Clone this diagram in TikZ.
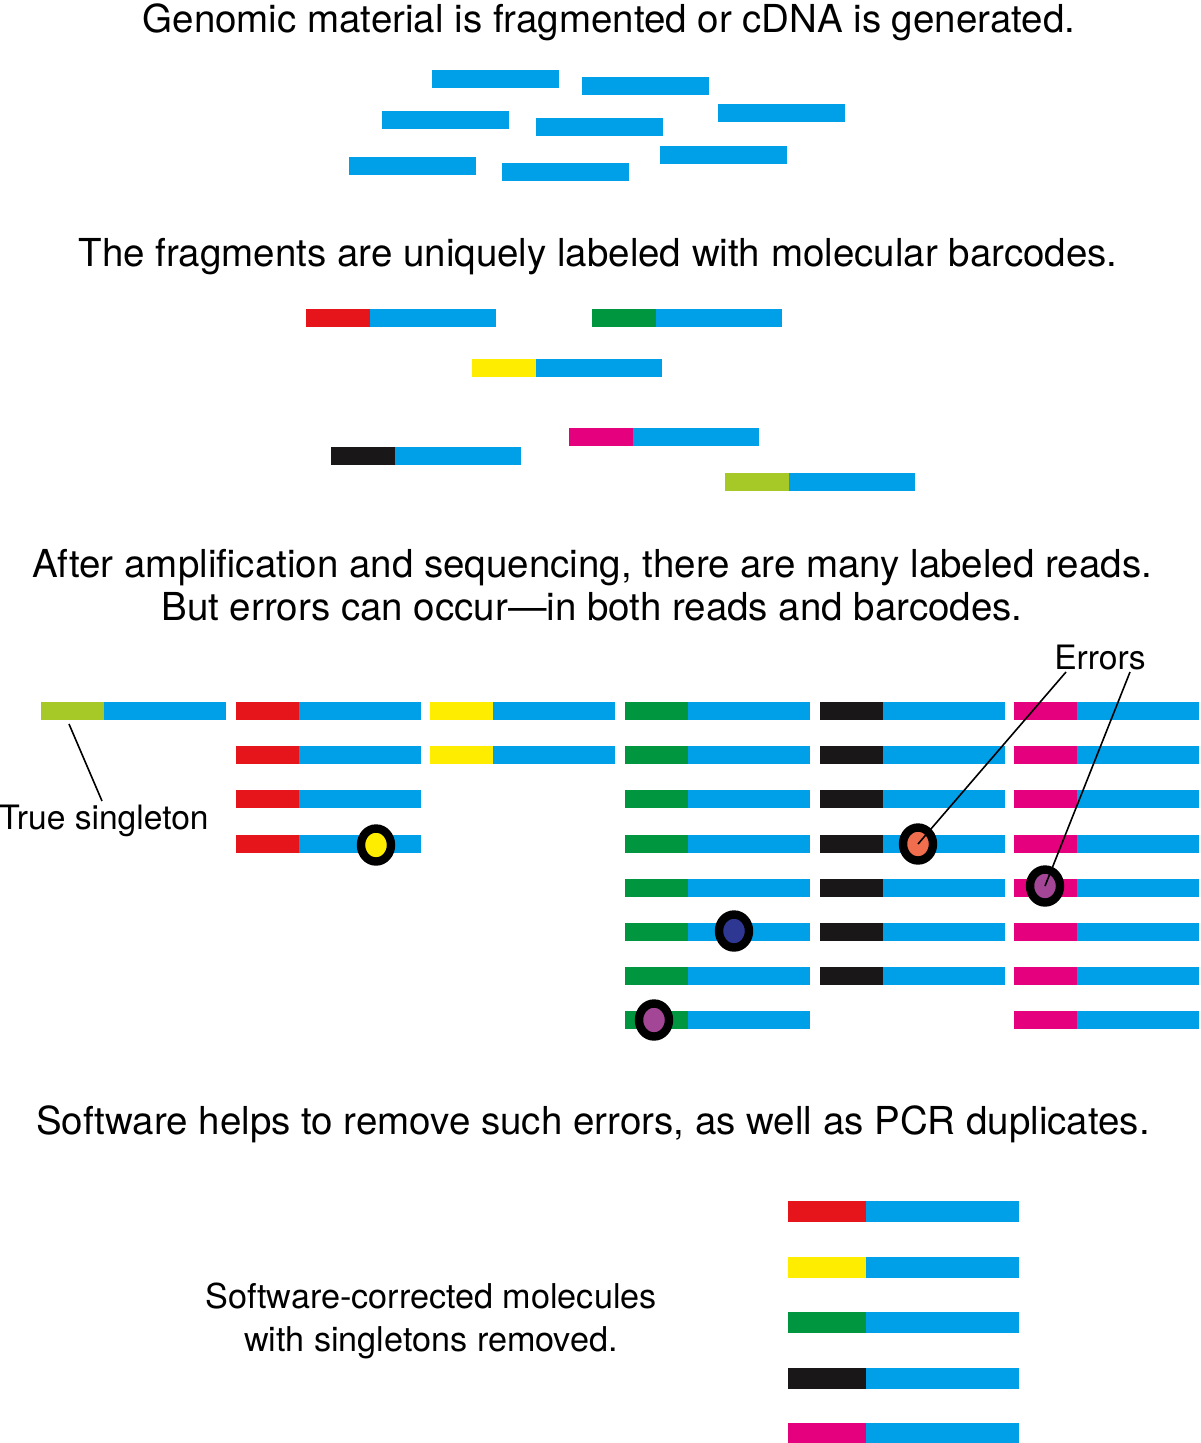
\documentclass[tikz,border=0pt]{standalone}
\usepackage{fontspec}
\setmainfont{TeX Gyre Heros}
\usetikzlibrary{positioning, shapes.geometric}
\definecolor{fragblue}{RGB}{0,160,233}
\definecolor{codered}{RGB}{230,20,27}
\definecolor{codegreen}{RGB}{0,150,64}
\definecolor{codeyellow}{RGB}{255,237,0}
\definecolor{codeblack}{RGB}{26,23,24}
\definecolor{codepink}{RGB}{229,0,126}
\definecolor{codelime}{RGB}{167,201,40}
\definecolor{errorange}{RGB}{240,110,78}
\definecolor{errpurple}{RGB}{163,70,150}
\definecolor{errblue}{RGB}{46,56,146}
\tikzset{
    every node/.style={inner sep=0pt, outer sep=0pt}, % Bars touch each other
    bar/.style={fill=#1, minimum height=9pt}, % One coloured piece of a molecule
    headline/.style={font=\fontsize{19.25}{21.5}\selectfont, align=center},
    note/.style={font=\fontsize{16.8}{21.5}\selectfont, align=center},
}

\begin{document}
\begin{tikzpicture}[
    x=0.5pt, y=-0.5pt,
    % Ring around a sequencing error
    errdot/.style={ellipse, draw=black, line width=4.2pt, fill=#1, minimum width=15pt, minimum height=16.5pt},
    pointer/.style={line width=0.8pt}
]
    \useasboundingbox (0,0) rectangle (1200,1443);

    % --- Step 1: fragments ---
    \node[headline] (t1) at (609,22) {Genomic material is fragmented or cDNA is generated.};
    \foreach \x/\y [count=\i] in {432/70, 582/77, 382/111, 536/118, 718/104, 349/157, 502/163, 660/146}
        \node[bar=fragblue, minimum width=63.5pt, anchor=north west] (g\i) at (\x,\y) {};

    % --- Step 2: barcoded fragments ---
    \node[headline] (t2) at (598,257) {The fragments are uniquely labeled with molecular barcodes.};
    \foreach \col/\x/\y in {codered/306/309, codegreen/592/309, codeyellow/472/359,
                            codepink/569/428, codeblack/331/447, codelime/725/473} {
        \node[bar=\col, minimum width=32pt, anchor=north west] (b-\col) at (\x,\y) {};
        \node[bar=fragblue, minimum width=63pt, right=0pt of b-\col] (f-\col) {};
    }

    % --- Step 3: reads after amplification ---
    \node[headline] (t3) at (592,585) {After amplification and sequencing, there are many labeled reads.\\
        But errors can occur---in both reads and barcodes.};
    \foreach \col/\x/\n in {codelime/41/1, codered/236/4, codeyellow/430/2,
                            codegreen/625/8, codeblack/820/7, codepink/1014/8}
        \foreach \k in {1,...,\n} {
            \node[bar=\col, minimum width=31.5pt, anchor=north west] (\col-\k) at (\x,{702+44.2*(\k-1)}) {};
            \node[bar=fragblue, minimum width=61pt, right=0pt of \col-\k] (\col-\k-r) {};
        }

    % Errors in reads and barcodes
    \node[errdot=codeyellow] (e1) at (376,845) {};
    \node[errdot=errorange] (e2) at (918,844) {};
    \node[errdot=errpurple] (e3) at (1045,886) {};
    \node[errdot=errblue] (e4) at (734,931) {};
    \node[errdot=errpurple] (e5) at (654,1020) {};

    \node[note] (errors) at (1100,658) {Errors};
    \coordinate (ea) at (1066,672);
    \coordinate (eb) at (1130,672);
    \draw[pointer] (ea) -- (e2.center);
    \draw[pointer] (eb) -- (e3.center);

    \node[note] (single) at (104,821) {True singleton};
    \coordinate (sa) at (69,724);
    \draw[pointer] (sa) -- (102,801);

    % --- Step 4: corrected molecules ---
    \node[headline] (t4) at (593,1124) {Software helps to remove such errors, as well as PCR duplicates.};
    \node[note, font=\fontsize{17.1}{21.5}\selectfont] (t5) at (431,1321) {Software-corrected molecules\\with singletons removed.};
    \foreach \col [count=\k] in {codered, codeyellow, codegreen, codeblack, codepink} {
        \node[bar=\col, minimum width=39pt, minimum height=10.5pt, anchor=north west] (m-\col) at (788,{1201+55.5*(\k-1)}) {};
        \node[bar=fragblue, minimum width=76.5pt, minimum height=10.5pt, right=0pt of m-\col] (m-\col-r) {};
    }

\end{tikzpicture}
\end{document}
